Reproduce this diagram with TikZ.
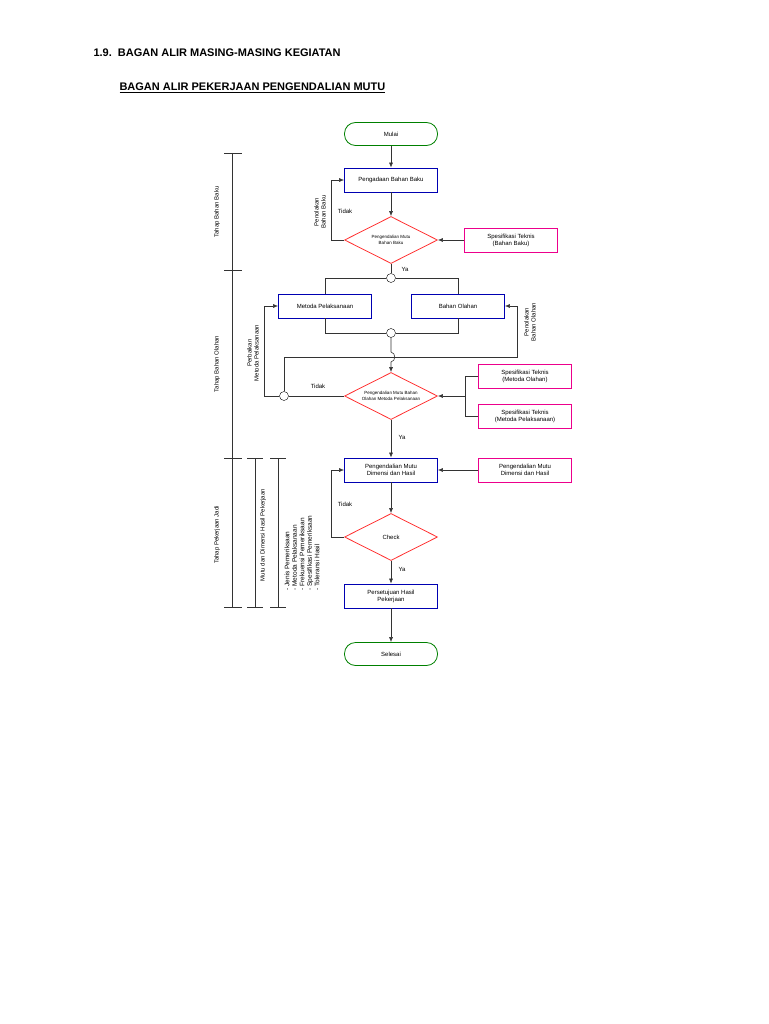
\documentclass[tikz,border=0pt]{standalone}
\usepackage{fontspec}
\setmainfont{Liberation Sans}
\usetikzlibrary{shapes.geometric,arrows.meta,positioning}
\tikzset{
  proc/.style={draw=blue!70!black,thick,minimum width=93pt,minimum height=24pt,inner sep=1pt,align=center,font=\fontsize{6}{7}\selectfont},
  spec/.style={draw=magenta,thick,minimum width=93pt,minimum height=24pt,inner sep=1pt,align=center,font=\fontsize{6}{7}\selectfont},
  term/.style={draw=green!50!black,thick,rounded corners=11pt,minimum width=93pt,minimum height=23pt,font=\fontsize{6}{7}\selectfont},
  dec/.style={draw=red!80,thick,diamond,aspect=2,minimum width=93pt,minimum height=47pt,inner sep=0pt,align=center,font=\fontsize{4.5}{5.5}\selectfont},
  jn/.style={draw,circle,fill=white,minimum size=9pt,inner sep=0pt},
  lbl/.style={font=\fontsize{6}{7}\selectfont},
  vlbl/.style={font=\fontsize{6}{7}\selectfont,rotate=90,align=center},
  flow/.style={-{Latex[length=5pt,width=4pt]},semithick,black!80},
  line/.style={semithick,black!80}
}
\begin{document}
\begin{tikzpicture}[x=1pt,y=-1pt]
    \useasboundingbox (0,0) rectangle (768,1024);
    % Headings
    \node[anchor=west,font=\bfseries\fontsize{11}{13}\selectfont] at (90,53) {1.9.\ \ BAGAN ALIR MASING-MASING KEGIATAN};
    \node[anchor=west,font=\bfseries\fontsize{11}{13}\selectfont] at (116,88) {\underline{BAGAN ALIR PEKERJAAN PENGENDALIAN MUTU}};
    % Main column
    \node[term] (mulai) at (391,134) {Mulai};
    \node[proc] (baku) at (391,180) {Pengadaan Bahan Baku};
    \node[dec] (cek1) at (391,240) {Pengendalian Mutu\\Bahan Baku};
    \node[spec] (spec1) at (511,240) {Spesifikasi Teknis\\(Bahan Baku)};
    \node[jn] (j1) at (391,278) {};
    \node[proc] (metoda) at (325,306) {Metoda Pelaksanaan};
    \node[proc] (olahan) at (458,306) {Bahan Olahan};
    \node[jn] (j2) at (391,333) {};
    \node[dec] (cek2) at (391,396) {Pengendalian Mutu Bahan\\Olahan Metoda Pelaksanaan};
    \node[jn] (j3) at (284,396) {};
    \node[spec] (spec2) at (525,376) {Spesifikasi Teknis\\(Metoda Olahan)};
    \node[spec] (spec3) at (525,416) {Spesifikasi Teknis\\(Metoda Pelaksanaan)};
    \node[proc] (dimensi) at (391,470) {Pengendalian Mutu\\Dimensi dan Hasil};
    \node[spec] (spec4) at (525,470) {Pengendalian Mutu\\Dimensi dan Hasil};
    \node[dec,font=\fontsize{6}{7}\selectfont] (check) at (391,537) {Check};
    \node[proc] (setuju) at (391,596) {Persetujuan Hasil\\Pekerjaan};
    \node[term] (selesai) at (391,654) {Selesai};
    \coordinate (k1) at (517,357);
    % Connectors
    \draw[flow] (mulai) -- (baku);
    \draw[flow] (baku) -- (cek1);
    \draw[flow] (spec1) -- (cek1);
    \draw[flow] (cek1.west) -- ++(-13,0) |- (baku.west);
    \draw[line] (cek1) -- (j1);
    \draw[line] (j1.west) -| (metoda.north);
    \draw[line] (j1.east) -| (olahan.north);
    \draw[line] (metoda.south) |- (j2.west);
    \draw[line] (olahan.south) |- (j2.east);
    \draw[flow] (j2) -- (391,352) .. controls (396,353) and (396,361) .. (391,362) -- (cek2.north);
    \draw[line] (cek2.west) -- (j3);
    \draw[flow] (j3.west) -- ++(-15.5,0) |- (metoda.west);
    \draw[flow] (j3.north) |- (k1) |- (olahan.east);
    \draw[line] (spec2.west) -- ++(-13,0) |- (spec3.west);
    \draw[flow] (465,396) -- (cek2.east);
    \draw[flow] (cek2) -- (dimensi);
    \draw[flow] (spec4) -- (dimensi);
    \draw[flow] (dimensi) -- (check);
    \draw[flow] (check.west) -- ++(-13,0) |- (dimensi.west);
    \draw[flow] (check) -- (setuju);
    \draw[flow] (setuju) -- (selesai);
    % Branch labels
    \node[lbl] at (345,211) {Tidak};
    \node[lbl] at (405,269) {Ya};
    \node[lbl] at (318,386) {Tidak};
    \node[lbl] at (402,437) {Ya};
    \node[lbl] at (345,504) {Tidak};
    \node[lbl] at (402,569) {Ya};
    \node[vlbl] at (320,212) {Penolakan\\Bahan Baku};
    \node[vlbl] at (253,353) {Perbaikan\\Metoda Pelaksanaan};
    \node[vlbl] at (530,322) {Penolakan\\Bahan Olahan};
    % Stage brackets
    \draw[line] (232,153) -- (232,607);
    \foreach \y in {153,270,458,607} \draw[line] (224,\y) -- (242,\y);
    \foreach \x in {255,278} {
      \draw[line] (\x,458) -- (\x,607);
      \draw[line] (\x-8,458) -- (\x+8,458);
      \draw[line] (\x-8,607) -- (\x+8,607);
    }
    \node[vlbl] at (217,212) {Tahap Bahan Baku};
    \node[vlbl] at (217,364) {Tahap Bahan Olahan};
    \node[vlbl] at (217,535) {Tahap Pekerjaan Jadi};
    \node[vlbl] at (263,535) {Mutu dan Dimensi Hasil Pekerjaan};
    \node[vlbl,align=left,font=\fontsize{6.5}{7.5}\selectfont] at (302,553) {- Jenis Pemeriksaan\\- Metoda Pelaksanaan\\- Frekuensi Pemeriksaan\\- Spesifikasi Pemeriksaan\\- Toleransi Hasil};
\end{tikzpicture}
\end{document}
